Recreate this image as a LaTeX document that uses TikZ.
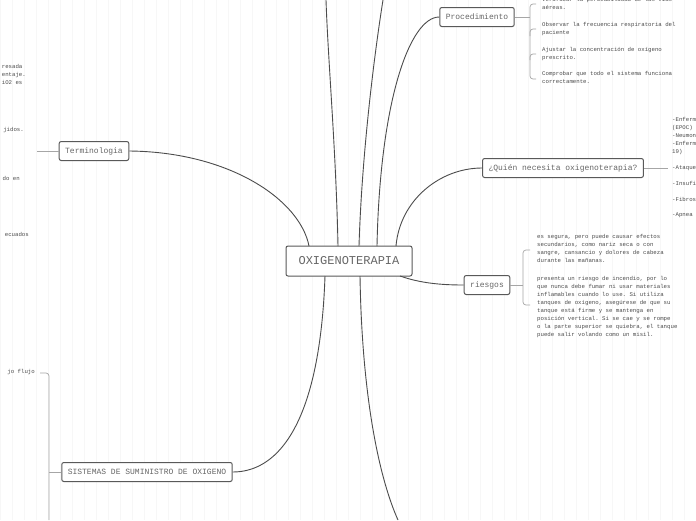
\documentclass[tikz,border=0pt]{standalone}
\usepackage{fontspec}
\setmonofont{Liberation Mono}
\begin{document}
\begin{tikzpicture}[x=1pt,y=-1pt,
  box/.style={draw=black!65,line width=1pt,rounded corners=2pt,fill=white,text=black!60,font=\ttfamily\fontsize{8}{9}\selectfont,inner xsep=6pt,minimum height=19pt},
  leaf/.style={anchor=north west,inner sep=0pt,text=black!70,font=\ttfamily\fontsize{5.7}{8}\selectfont,align=left},
  br/.style={draw=black!35,line width=0.7pt},
  con/.style={draw=black!70,line width=0.9pt}]
\useasboundingbox (0,0) rectangle (696,520);
\fill[white] (0,0) rectangle (696,520);
\draw[black!3,step=12] (0,0) grid (696,520);
% central
\node[box,font=\ttfamily\fontsize{12}{13}\selectfont,minimum width=126pt,minimum height=30pt] (c) at (349,261) {OXIGENOTERAPIA};
\node[box] (p) at (477,17) {Procedimiento};
\node[box] (q) at (563,168) {¿Quién necesita oxigenoterapia?};
\node[box] (r) at (487,285) {riesgos};
\node[box] (t) at (94,151) {Terminologia};
\node[box] (s) at (147,472) {SISTEMAS DE SUMINISTRO DE OXIGENO};
\coordinate (top1) at (326,0);
\coordinate (top2) at (383,0);
\coordinate (bot1) at (398,520);
% connectors
\draw[con] (309,246) .. controls (300,200) and (230,152) .. (t.east);
\draw[con] (338,246) .. controls (336,150) and (328,60) .. (top1);
\draw[con] (359,246) .. controls (362,150) and (375,50) .. (top2);
\draw[con] (377,246) .. controls (380,100) and (410,17) .. (p.west);
\draw[con] (396,246) .. controls (400,200) and (440,168) .. (q.west);
\draw[con] (400,276) .. controls (420,283) and (440,285) .. (r.west);
\draw[con] (325,276) .. controls (320,420) and (280,472) .. (s.east);
\draw[con] (360,276) .. controls (362,400) and (380,480) .. (bot1);
% procedimiento bracket
\draw[br] (p.east) -- (530,17);
\draw[br,rounded corners=3pt] (536,4) -- (530,4) -- (530,79) -- (536,79);
\draw[br,rounded corners=3pt] (536,29) -- (530,29) -- (530,36);
\draw[br,rounded corners=3pt] (536,54) -- (530,54) -- (530,60);
\node[leaf] (p1) at (542,-3) {Verificar la permeabilidad de las vías\\aéreas.};
\node[leaf] (p2) at (542,22) {Observar la frecuencia respiratoria del\\paciente};
\node[leaf] (p3) at (542,47) {Ajustar la concentración de oxígeno\\prescrito.};
\node[leaf] (p4) at (542,71) {Comprobar que todo el sistema funciona\\correctamente.};
% quien
\draw[br] (q.east) -- (668,168);
\node[leaf] (q1) at (672,117) {-Enfermedad\\(EPOC)\\-Neumonía\\-Enfermedad\\19)};
\node[leaf] (q2) at (672,165) {-Ataque};
\node[leaf] (q3) at (672,181) {-Insuficiencia};
\node[leaf] (q4) at (672,197) {-Fibrosis};
\node[leaf] (q5) at (672,213) {-Apnea};
% riesgos
\draw[br] (r.east) -- (523,285);
\draw[br,rounded corners=3pt] (530,250) -- (523,250) -- (523,305) -- (530,305);
\node[leaf] (r1) at (537,234) {es segura, pero puede causar efectos\\secundarios, como nariz seca o con\\sangre, cansancio y dolores de cabeza\\durante las mañanas.};
\node[leaf] (r2) at (537,276) {presenta un riesgo de incendio, por lo\\que nunca debe fumar ni usar materiales\\inflamables cuando lo use. Si utiliza\\tanques de oxígeno, asegúrese de que su\\tanque está firme y se mantenga en\\posición vertical. Si se cae y se rompe\\o la parte superior se quiebra, el tanque\\puede salir volando como un misil.};
% terminologia
\draw[br] (t.west) -- (37,151);
\node[leaf,anchor=north east] (l1) at (26,64) {resada\\entaje.\\iO2 es};
\node[leaf,anchor=north east] (l2) at (24,127) {jidos.};
\node[leaf,anchor=north east] (l3) at (20,176) {do en};
\node[leaf,anchor=north east] (l4) at (29,232) {ecuados};
% sistemas
\draw[br] (s.west) -- (49,472);
\draw[br,rounded corners=3pt] (40,373) -- (49,373) -- (49,520);
\node[leaf,anchor=north east] (s1) at (35,369) {jo flujo};
\end{tikzpicture}
\end{document}
